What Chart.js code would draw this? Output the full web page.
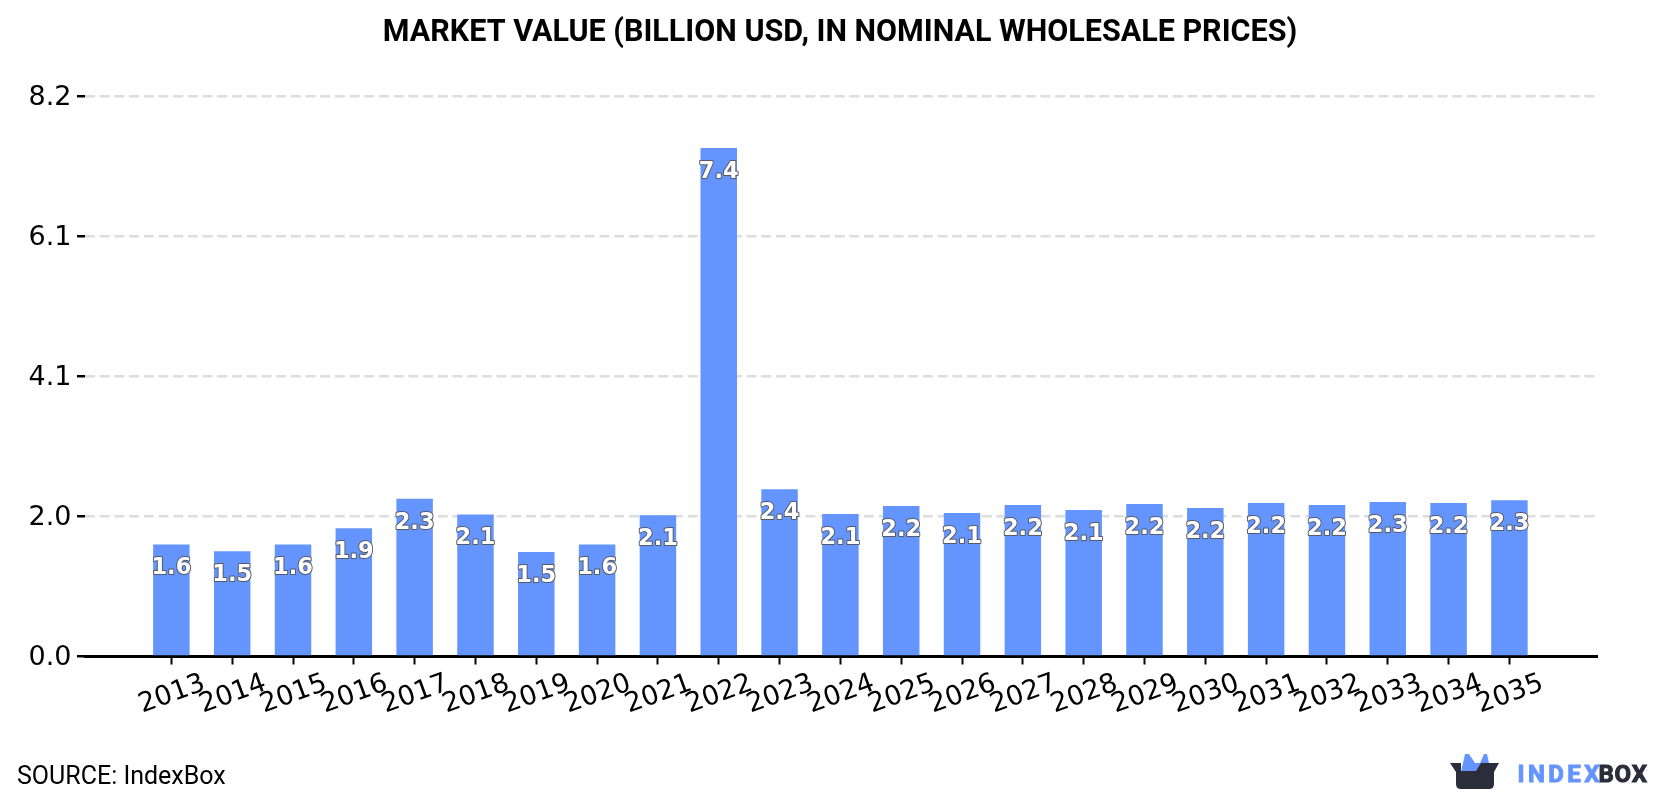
<!DOCTYPE html>
<html>
<head>
<meta charset="utf-8">
<title>Market value</title>
<script src="https://cdn.jsdelivr.net/npm/chart.js@4/dist/chart.umd.min.js"></script>
<style>
    html, body { margin: 0; padding: 0; background: #fff; }
    #wrap { width: 1680px; height: 800px; }
</style>
</head>
<body>
<div id="wrap"><canvas id="myChart"></canvas></div>
<script>
const years = [2013, 2014, 2015, 2016, 2017, 2018, 2019, 2020, 2021, 2022, 2023, 2024,
    2025, 2026, 2027, 2028, 2029, 2030, 2031, 2032, 2033, 2034, 2035];
const marketValue = [1.64, 1.54, 1.64, 1.88, 2.31, 2.08, 1.53, 1.64, 2.07, 7.449, 2.449, 2.087,
    2.204, 2.1, 2.218, 2.145, 2.233, 2.175, 2.248, 2.218, 2.262, 2.248, 2.29];
const yTickValues = [0, 2.05, 4.1, 6.15, 8.2];
const yTickLabels = ['0.0', '2.0', '4.1', '6.1', '8.2'];
const xRange = [2011.58, 2036.44];

const chartTitle = 'MARKET VALUE (BILLION USD, IN NOMINAL WHOLESALE PRICES)';
const sourceText = 'SOURCE: IndexBox';

const barBlue = '#6495ff';
const logoDark = '#2b2d3a';

// the right padding only reserves room beside the plot, keep the title centred on the page
const centerTitle = {
    id: 'centerTitle',
    afterLayout(chart) {
        chart.titleBlock.right = chart.width;
    }
};

// value labels sit just inside the top of each bar
const barLabels = {
    id: 'barLabels',
    afterDatasetsDraw(chart) {
        const ctx = chart.ctx;
        const bars = chart.getDatasetMeta(0).data;
        ctx.save();
        ctx.font = 'bold 22.5px "DejaVu Sans"';
        ctx.textAlign = 'center';
        ctx.textBaseline = 'middle';
        ctx.lineJoin = 'round';
        bars.forEach(function (bar, i) {
            const text = marketValue[i].toFixed(1);
            ctx.lineWidth = 2;
            ctx.strokeStyle = '#555a66';
            ctx.strokeText(text, bar.x, bar.y + 24);
            ctx.fillStyle = '#fff';
            ctx.fillText(text, bar.x, bar.y + 24);
        });
        ctx.restore();
    }
};

// source line and brand mark along the bottom edge
const footer = {
    id: 'footer',
    afterDraw(chart) {
        const ctx = chart.ctx;
        ctx.save();
        ctx.fillStyle = '#000';
        ctx.font = '25px Roboto';
        ctx.textBaseline = 'alphabetic';
        ctx.fillText(sourceText, 17, 784);

        ctx.fillStyle = barBlue;
        ctx.beginPath();
        ctx.moveTo(1461, 772);
        ctx.lineTo(1465, 754);
        ctx.lineTo(1469, 754);
        ctx.lineTo(1475, 763);
        ctx.lineTo(1480, 763);
        ctx.lineTo(1484, 754);
        ctx.lineTo(1487, 754);
        ctx.lineTo(1491, 772);
        ctx.closePath();
        ctx.fill();

        ctx.fillStyle = logoDark;
        ctx.beginPath();
        ctx.moveTo(1450, 763);
        ctx.lineTo(1461, 763);
        ctx.lineTo(1461, 771);
        ctx.lineTo(1476, 771);
        ctx.lineTo(1481, 763);
        ctx.lineTo(1499, 763);
        ctx.lineTo(1494, 772);
        ctx.lineTo(1494, 784);
        ctx.quadraticCurveTo(1494, 789, 1489, 789);
        ctx.lineTo(1461, 789);
        ctx.quadraticCurveTo(1456, 789, 1456, 784);
        ctx.lineTo(1456, 772);
        ctx.closePath();
        ctx.fill();

        // brand lettering is heavier than the installed bold, so thicken it with a stroke
        ctx.font = 'bold 24px Roboto';
        ctx.lineWidth = 1;
        ctx.letterSpacing = '3.4px';
        ctx.fillStyle = barBlue;
        ctx.strokeStyle = barBlue;
        ctx.strokeText('INDEX', 1517.5, 782);
        ctx.fillText('INDEX', 1517.5, 782);
        ctx.letterSpacing = '0.8px';
        ctx.fillStyle = logoDark;
        ctx.strokeStyle = logoDark;
        ctx.strokeText('BOX', 1598.5, 782);
        ctx.fillText('BOX', 1598.5, 782);
        ctx.restore();
    }
};

const ctx = document.getElementById('myChart').getContext('2d');

const myChart = new Chart(ctx, {
    type: 'bar',
    data: {
        datasets: [{
            data: years.map(function (y, i) { return { x: y, y: marketValue[i] }; }),
            backgroundColor: barBlue,
            barPercentage: 0.6,
            categoryPercentage: 1
        }]
    },
    options: {
        responsive: true,
        maintainAspectRatio: false,
        animation: false,
        layout: { padding: { left: 0, right: 83, top: 0, bottom: 0 } },
        plugins: {
            legend: { display: false },
            tooltip: { enabled: false },
            title: {
                display: true,
                text: chartTitle,
                color: '#000',
                font: { family: 'Roboto', size: 30.5, weight: 'bold', lineHeight: 1.2 },
                padding: { top: 15, bottom: 45 }
            }
        },
        scales: {
            x: {
                type: 'linear',
                offset: false,
                min: xRange[0],
                max: xRange[1],
                afterBuildTicks(scale) {
                    scale.ticks = years.map(function (y) { return { value: y }; });
                },
                afterFit(scale) { scale.height = 143.5; },
                grid: {
                    offset: false,
                    drawOnChartArea: false,
                    tickLength: 8,
                    tickWidth: 2,
                    tickColor: '#000'
                },
                border: { color: '#000', width: 3 },
                ticks: {
                    autoSkip: false,
                    minRotation: 20,
                    maxRotation: 20,
                    labelOffset: 33,
                    padding: 3,
                    color: '#000',
                    font: { family: 'DejaVu Sans', size: 27 },
                    callback(value) { return String(value); }
                }
            },
            y: {
                min: 0,
                max: 8.2,
                afterBuildTicks(scale) {
                    scale.ticks = yTickValues.map(function (v) { return { value: v }; });
                },
                afterFit(scale) { scale.width = 85; },
                grid: {
                    color: '#dddddd',
                    lineWidth: 2.5,
                    tickColor: '#000',
                    tickWidth: 2.5,
                    tickLength: 8
                },
                border: { display: false, dash: [10, 4.7] },
                ticks: {
                    padding: 5.5,
                    labelOffset: 1.5,
                    color: '#000',
                    font: { family: 'DejaVu Sans', size: 27 },
                    callback(value, i) { return yTickLabels[i]; }
                }
            }
        }
    },
    plugins: [centerTitle, barLabels, footer]
});
</script>
</body>
</html>
